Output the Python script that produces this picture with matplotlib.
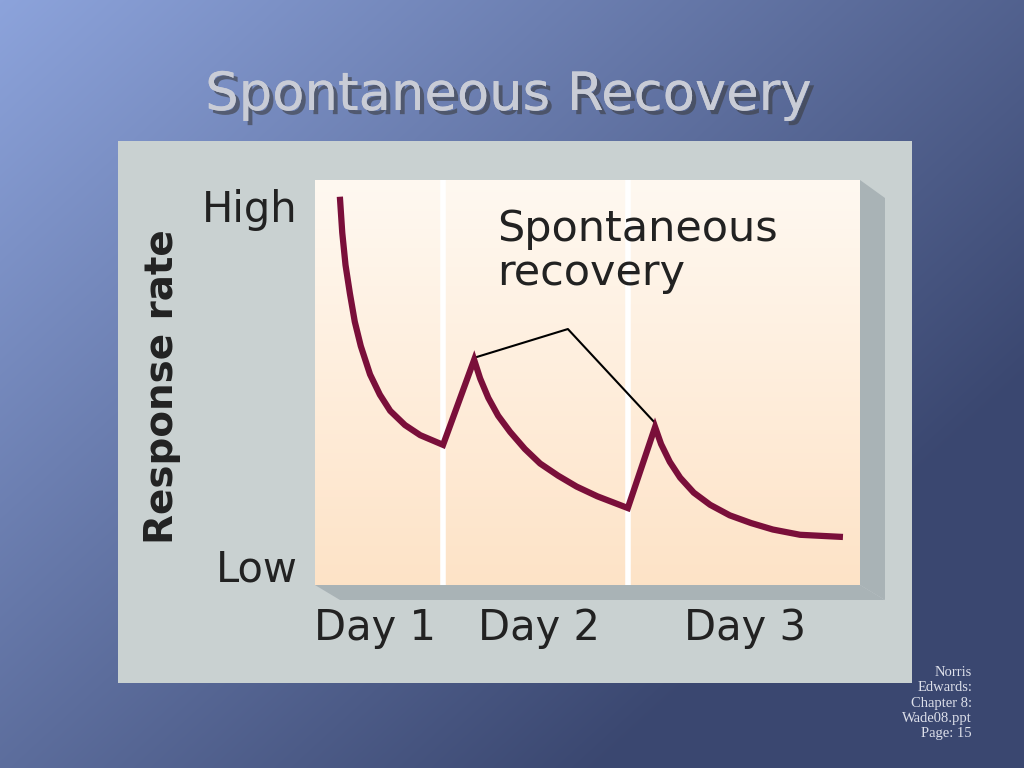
import numpy as np
import matplotlib
matplotlib.use("Agg")
import matplotlib.pyplot as plt
from matplotlib.patches import Rectangle, Polygon
import matplotlib.patheffects as pe

# Data (x: time axis 0..1, y: response rate 0=Low..1=High)
seg1_x = [0.046, 0.051, 0.057, 0.064, 0.073, 0.083, 0.101, 0.119, 0.138, 0.165, 0.193, 0.220, 0.250, 0.235]
seg1_y = [0.951, 0.880, 0.800, 0.730, 0.660, 0.600, 0.530, 0.470, 0.420, 0.370, 0.330, 0.300, 0.282, 0.346]
seg1_x = seg1_x[:-1] + [0.235]
seg1_y = seg1_y[:-1] + [0.346]
# remove helper ordering issue: keep monotonic
seg1_x = [0.046, 0.050, 0.056, 0.064, 0.073, 0.084, 0.101, 0.119, 0.138, 0.165, 0.193, 0.235]
seg1_y = [0.951, 0.870, 0.790, 0.720, 0.650, 0.590, 0.520, 0.470, 0.430, 0.395, 0.370, 0.346]
seg2_x = [0.235, 0.292]
seg2_y = [0.346, 0.556]
seg3_x = [0.292, 0.303, 0.318, 0.336, 0.358, 0.385, 0.413, 0.446, 0.480, 0.518, 0.574]
seg3_y = [0.556, 0.510, 0.462, 0.418, 0.378, 0.336, 0.300, 0.270, 0.243, 0.219, 0.190]
seg4_x = [0.574, 0.624]
seg4_y = [0.190, 0.390]
seg5_x = [0.624, 0.635, 0.651, 0.670, 0.695, 0.725, 0.761, 0.800, 0.840, 0.890, 0.963]
seg5_y = [0.390, 0.348, 0.304, 0.265, 0.228, 0.198, 0.172, 0.153, 0.137, 0.124, 0.119]
day_bounds = [0.235, 0.574]
day_labels = ["Day 1", "Day 2", "Day 3"]
day_label_x = [0.11, 0.41, 0.79]

curve_x = seg1_x + seg2_x[1:] + seg3_x[1:] + seg4_x[1:] + seg5_x[1:]
curve_y = seg1_y + seg2_y[1:] + seg3_y[1:] + seg4_y[1:] + seg5_y[1:]

fig = plt.figure(figsize=(10.24, 7.68), dpi=100)
bg = fig.add_axes([0, 0, 1, 1])
bg.set_xlim(0, 1024); bg.set_ylim(768, 0); bg.axis("off")

yy, xx = np.mgrid[0:768, 0:1024]
t = np.clip((xx / 1024 * 0.55 + yy / 768 * 0.45) * 1.3, 0, 1)
c0 = np.array([0.55, 0.64, 0.86]); c1 = np.array([0.23, 0.28, 0.44])
img = c0[None, None, :] * (1 - t[..., None]) + c1[None, None, :] * t[..., None]
bg.imshow(img, extent=[0, 1024, 768, 0], aspect="auto", zorder=0)

bg.text(508, 95, "Spontaneous Recovery", ha="center", va="center", fontsize=38,
        color="#c9ccd6", family="DejaVu Sans",
        path_effects=[pe.withSimplePatchShadow(offset=(3, -3), alpha=0.6), pe.Normal()], zorder=3)

bg.add_patch(Rectangle((118, 141), 794, 542, facecolor="#c9d1d1", edgecolor="none", zorder=1))
bg.add_patch(Polygon([(860, 180), (885, 198), (885, 600), (860, 585)], facecolor="#a9b3b6", zorder=2))
bg.add_patch(Polygon([(315, 585), (860, 585), (885, 600), (340, 600)], facecolor="#a9b3b6", zorder=2))

bg.text(298, 210, "High", ha="right", va="center", fontsize=30, color="#222222", zorder=3)
bg.text(298, 570, "Low", ha="right", va="center", fontsize=30, color="#222222", zorder=3)
bg.text(162, 387, "Response rate", ha="center", va="center", rotation=90, fontsize=28,
        fontweight="bold", color="#222222", zorder=3)
bg.text(972, 703, "Norris\nEdwards:\nChapter 8:\nWade08.ppt\nPage: 15", ha="right", va="center",
        fontsize=10.5, family="Liberation Serif", color="#dde0ea", linespacing=1.25, zorder=3)

ax = fig.add_axes([315 / 1024, 1 - 585 / 768, 545 / 1024, 405 / 768])
ax.set_xlim(0, 1); ax.set_ylim(0, 1)
grad = np.linspace(0, 1, 256)[:, None]
cA = np.array([1.0, 0.975, 0.945]); cB = np.array([0.995, 0.89, 0.78])
gimg = cA[None, None, :] * (1 - grad[..., None]) + cB[None, None, :] * grad[..., None]
ax.imshow(gimg, extent=[0, 1, 0, 1], aspect="auto", zorder=0)
for b in day_bounds:
    ax.axvline(b, color="white", lw=4, zorder=1)
ax.plot(curve_x, curve_y, color="#7a0f3a", lw=4.5, solid_joinstyle="miter", zorder=3)
ax.plot([seg2_x[1], 0.464, seg4_x[1]], [seg2_y[1] + 0.005, 0.632, seg4_y[1] + 0.01],
        color="black", lw=1.5, zorder=2)
ax.text(0.334, 0.93, "Spontaneous\nrecovery", ha="left", va="top", fontsize=31,
        color="#222222", linespacing=1.05, zorder=4)
ax.set_xticks([]); ax.set_yticks([])
for s in ax.spines.values():
    s.set_visible(False)

for lx, lab in zip(day_label_x, day_labels):
    ax.text(lx, -0.106, lab, ha="center", va="center", fontsize=30, color="#222222",
            clip_on=False)

fig.savefig("out.png", dpi=100)
